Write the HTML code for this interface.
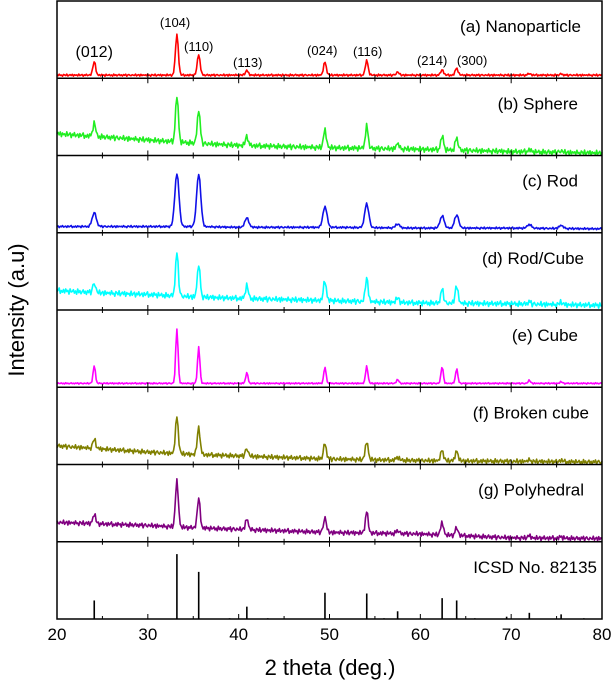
<!DOCTYPE html>
<html><head><meta charset="utf-8"><style>
html,body{margin:0;padding:0;background:#fff;}
svg{display:block;font-family:"Liberation Sans",Arial,sans-serif;}
</style></head><body>
<svg id="chart" width="613" height="685" viewBox="0 0 613 685" xmlns="http://www.w3.org/2000/svg">
<g id="traces"></g><g id="frame"></g><g id="labels"></g>
<text x="24" y="310" font-size="22" text-anchor="middle" transform="rotate(-90 24 310)">Intensity (a.u)</text>
<text x="330" y="675" font-size="22" text-anchor="middle">2 theta (deg.)</text>
</svg>
<script>
const peakPositions = [24.1, 33.2, 35.6, 40.9, 49.5, 54.1, 57.5, 62.4, 64.0, 72.0, 75.5];
const baseX = [20, 25, 30, 35, 40, 50, 60, 70, 80];
const seriesNames = ["(a) Nanoparticle","(b) Sphere","(c) Rod","(d) Rod/Cube","(e) Cube","(f) Broken cube","(g) Polyhedral"];
const seriesColors = ["#ff0000","#22ee22","#1010e8","#00ffff","#ff00ff","#808000","#800080"];
const heightsA = [0.17,0.53,0.27,0.06,0.17,0.19,0.04,0.07,0.09,0.02,0.015];
const heightsB = [0.17,0.60,0.44,0.12,0.23,0.29,0.07,0.18,0.16,0.03,0.02];
const heightsC = [0.18,0.69,0.68,0.12,0.27,0.31,0.05,0.16,0.17,0.05,0.04];
const heightsD = [0.12,0.56,0.42,0.17,0.26,0.31,0.06,0.18,0.23,0.03,0.03];
const heightsE = [0.23,0.71,0.47,0.14,0.21,0.23,0.05,0.22,0.19,0.04,0.02];
const heightsF = [0.12,0.48,0.35,0.10,0.20,0.24,0.04,0.14,0.13,0.02,0.02];
const heightsG = [0.12,0.60,0.38,0.14,0.19,0.28,0.04,0.16,0.10,0.03,0.02];
const baseA = [0.04,0.04,0.04,0.04,0.04,0.04,0.04,0.04,0.04];
const baseB = [0.28,0.24,0.20,0.16,0.13,0.10,0.08,0.05,0.03];
const baseC = [0.08,0.08,0.08,0.08,0.07,0.07,0.06,0.06,0.05];
const baseD = [0.25,0.22,0.20,0.17,0.15,0.12,0.09,0.08,0.06];
const baseE = [0.05,0.05,0.05,0.05,0.05,0.05,0.05,0.05,0.05];
const baseF = [0.24,0.20,0.16,0.13,0.11,0.07,0.05,0.04,0.03];
const baseG = [0.25,0.23,0.21,0.18,0.16,0.12,0.10,0.05,0.04];
const peakWidths = [0.22,0.22,0.32,0.22,0.18,0.22,0.22];
const noiseAmp = [0.015,0.04,0.015,0.04,0.01,0.035,0.035];
const jitter = [0.3,-0.5,0.8,-0.2,0.1,-0.9,0.6,0.2,-0.4,0.9,-0.7,0.0,0.5,-0.3,0.7,-0.8,0.4,-0.1,0.2,-0.6,0.9,-0.4,0.1,0.6,-0.9,0.3,-0.2,0.8,-0.5,0.0,0.4,-0.7,0.6,-0.3,0.2,0.9,-0.8,0.1,-0.4,0.5,-0.6,0.7,-0.1,0.3,-0.9,0.8,-0.2,0.0,0.6,-0.5,0.2,-0.8,0.9,-0.3,0.4,-0.6,0.1,0.7,-0.4,0.3,-0.7,0.5,-0.1,0.8,-0.9,0.2,0.6,-0.2,-0.5,0.4,0.0,-0.3,0.9,-0.6,0.1,0.5,-0.8,0.7,-0.4,0.3,-0.1];
const icsdPositions = [24.1,33.2,35.6,40.9,49.5,54.1,57.5,62.4,64.0,69.5,72.0,75.5,39.0,43.2,56.0,66.0,78.0];
const icsdHeights = [0.24,0.84,0.61,0.16,0.34,0.33,0.10,0.27,0.24,0.03,0.08,0.06,0.01,0.01,0.01,0.01,0.01];
const xTicks = [20,30,40,50,60,70,80];
const millerLabels = ["(012)","(104)","(110)","(113)","(024)","(116)","(214)","(300)"];
const millerX = [24.1,33.0,35.6,41.0,49.2,54.2,61.3,65.7];

const allHeights=[heightsA,heightsB,heightsC,heightsD,heightsE,heightsF,heightsG];
const allBases=[baseA,baseB,baseC,baseD,baseE,baseF,baseG];
const NS="http://www.w3.org/2000/svg";
const X0=57,X1=602,TOP=1,PH=77.25;
const xs=v=>X0+(v-20)/60*(X1-X0);
const panelTop=i=>TOP+i*PH;
const ys=(i,f)=>panelTop(i)+PH-f*PH;
function mk(tag,attrs,parent){const e=document.createElementNS(NS,tag);for(const k in attrs)e.setAttribute(k,attrs[k]);parent.appendChild(e);return e;}
function baseAt(b,x){for(let k=0;k<baseX.length-1;k++){if(x<=baseX[k+1]){const t=(x-baseX[k])/(baseX[k+1]-baseX[k]);return b[k]+t*(b[k+1]-b[k]);}}return b[b.length-1];}
const traces=document.getElementById('traces'),frame=document.getElementById('frame'),labels=document.getElementById('labels');
for(let s=0;s<7;s++){
  let d="";let idx=0;
  for(let x=20;x<=80.001;x+=0.12){
    let f=baseAt(allBases[s],x)+noiseAmp[s]*jitter[(idx+s*11)%jitter.length];
    const h=allHeights[s];
    for(let p=0;p<peakPositions.length;p++){const w=peakWidths[s];f+=h[p]*Math.exp(-Math.pow(x-peakPositions[p],2)/(2*w*w*0.5));}
    f=Math.max(0.005,Math.min(0.98,f));
    d+=(idx?"L":"M")+xs(x).toFixed(1)+","+ys(s,f).toFixed(1);idx++;
  }
  const p=mk('path',{d:d,fill:'none',stroke:seriesColors[s],'stroke-width':1.6,'stroke-linejoin':'round'},traces);
  
  
  const t=mk('text',{x:[581,578,578,584,578,589,584][s],y:panelTop(s)+31,'font-size':17,'text-anchor':'end'},labels);
  t.textContent=seriesNames[s];
  
  
}
for(let k=0;k<icsdPositions.length;k++){
  const l=mk('line',{x1:xs(icsdPositions[k]),x2:xs(icsdPositions[k]),y1:ys(7,0),y2:ys(7,icsdHeights[k]),stroke:'#000','stroke-width':1.6},traces);
  
  
}
const it=mk('text',{x:597,y:panelTop(7)+31,'font-size':17,'text-anchor':'end'},labels);
it.textContent="ICSD No. 82135";


const mY=[52,22,46,62,50,51,60,60];
for(let k=0;k<millerLabels.length;k++){
  const t=mk('text',{x:xs(millerX[k]),y:mY[k]+5,'font-size':k==0?16:13,'text-anchor':'middle'},labels);
  t.textContent=millerLabels[k];
  
  
}
const bottom=panelTop(8);
const fr=mk('rect',{x:X0,y:TOP,width:X1-X0,height:bottom-TOP,fill:'none',stroke:'#000','stroke-width':1.5},frame);


for(let i=1;i<8;i++){
  const l=mk('line',{x1:X0,x2:X1,y1:panelTop(i),y2:panelTop(i),stroke:'#000','stroke-width':1.5},frame);
  
  
}
for(let v=20;v<=80;v+=5){
  const major=(v%10===0);const len=major?5:3;
  for(let i=1;i<=8;i++){
    const y=panelTop(i);
    const t=mk('line',{x1:xs(v),x2:xs(v),y1:y,y2:y-len,stroke:'#000','stroke-width':1},frame);
    
    
    if(i<8){const t2=mk('line',{x1:xs(v),x2:xs(v),y1:y,y2:y+len,stroke:'#000','stroke-width':1},frame);
    
    }
  }
}
for(const v of xTicks){
  const t=mk('text',{x:xs(v),y:bottom+21,'font-size':17,'text-anchor':'middle'},labels);
  t.textContent=String(v);
  
  
}
</script>
</body></html>
